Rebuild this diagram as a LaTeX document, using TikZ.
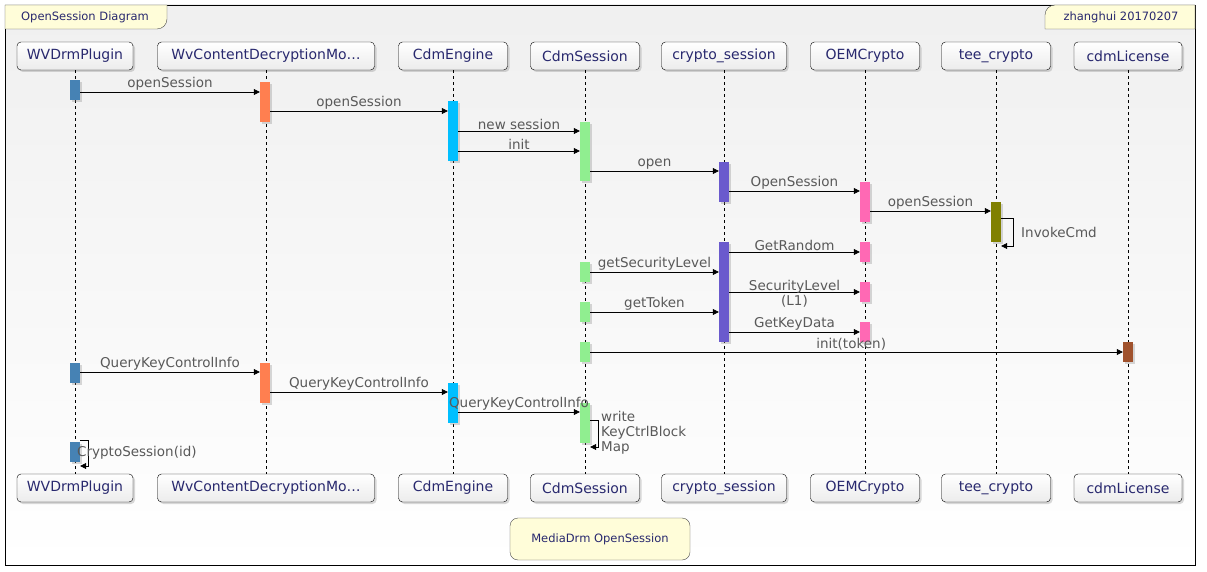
\documentclass[tikz,border=0pt]{standalone}
\usepackage{fontspec}
\setmainfont{DejaVu Sans}
\usetikzlibrary{arrows.meta,shadows}
\definecolor{steel}{RGB}{70,130,180}
\definecolor{coral}{RGB}{255,127,80}
\definecolor{dsky}{RGB}{0,191,255}
\definecolor{lgreen}{RGB}{144,238,144}
\definecolor{slate}{RGB}{106,90,205}
\definecolor{hpink}{RGB}{255,105,180}
\definecolor{oliv}{RGB}{128,128,0}
\definecolor{sienna}{RGB}{160,82,45}
\definecolor{txt}{RGB}{40,40,110}
\begin{document}
\begin{tikzpicture}[x=1pt,y=-1pt,
  part/.style={draw=black,rounded corners=4pt,top color=white,bottom color=gray!15,minimum height=28pt,inner sep=0pt,font=\fontsize{14}{16}\selectfont,text=txt,drop shadow={shadow xshift=2pt,shadow yshift=-2pt,opacity=.3}},
  act/.style={minimum width=10pt,inner sep=0pt,draw=none,drop shadow={shadow xshift=2pt,shadow yshift=-2pt,opacity=.3}},
  msg/.style={-{Triangle[length=6pt,width=6pt]},line width=0.6pt},
  lab/.style={font=\fontsize{13.5}{15}\selectfont,text=gray!70!black,inner sep=1pt,anchor=south},
  life/.style={dashed,line width=0.6pt}]
\useasboundingbox (0,0) rectangle (1207,572);
\fill[white] (0,0) rectangle (1207,572);
\draw[top color=gray!12,bottom color=white,line width=0.8pt] (5,5) rectangle (1195,565);
\draw[fill=yellow!15,draw=gray!60!black] (5,5) -- (167,5) [rounded corners=10pt]-- (167,29) [sharp corners]-- (5,29) -- cycle;
\node[font=\fontsize{11.5}{13}\selectfont,text=txt] (title) at (85,17) {OpenSession Diagram};
\draw[fill=yellow!15,draw=gray!60!black] (1195,5) -- (1195,29) -- (1045,29) [rounded corners=10pt]-- (1045,5) [sharp corners]-- cycle;
\node[font=\fontsize{11.5}{13}\selectfont,text=txt] (author) at (1121,17) {zhanghui 20170207};
\foreach \n/\x/\w/\t in {p1/75/116/WVDrmPlugin, p2/266/217/WvContentDecryptionMo\ldots, p3/453/109/CdmEngine, p4/585/109/CdmSession, p5/724/125/crypto\_session, p6/865/109/OEMCrypto, p7/996/109/tee\_crypto, p8/1128/108/cdmLicense}{
  \node[part,minimum width=\w pt] (\n t) at (\x,56) {\t};
  \node[part,minimum width=\w pt] (\n b) at (\x,488) {\t};
  \draw[life] (\n t.south) -- (\n b.north);
}
\newcommand{\actbox}[6]{\node[act,fill=#2,minimum height=#5pt] (#1) at (#3,#4+#5/2) {};}
\actbox{a1}{steel}{75}{80}{20}{}
\actbox{a1b}{steel}{75}{363}{20}{}
\actbox{a1c}{steel}{75}{442}{20}{}
\actbox{a2}{coral}{265}{82}{40}{}
\actbox{a2b}{coral}{265}{363}{40}{}
\actbox{a3}{dsky}{453}{101}{60}{}
\actbox{a3b}{dsky}{453}{383}{40}{}
\actbox{s1}{lgreen}{585}{122}{59}{}
\actbox{s2}{lgreen}{585}{262}{20}{}
\actbox{s3}{lgreen}{585}{302}{20}{}
\actbox{s4}{lgreen}{585}{342}{20}{}
\actbox{s5}{lgreen}{585}{403}{40}{}
\actbox{c1}{slate}{724}{162}{40}{}
\actbox{c2}{slate}{724}{242}{100}{}
\actbox{o1}{hpink}{865}{182}{40}{}
\actbox{o2}{hpink}{865}{242}{20}{}
\actbox{o3}{hpink}{865}{282}{20}{}
\actbox{o4}{hpink}{865}{322}{20}{}
\actbox{t1}{oliv}{996}{202}{40}{}
\actbox{l1}{sienna}{1128}{342}{20}{}
\newcommand{\mg}[4]{\draw[msg] (#1.east |- 0,#3) -- node[lab]{#4} (#2.west |- 0,#3);}
\mg{a1}{a2}{92}{openSession}
\mg{a2}{a3}{111}{openSession}
\mg{a3}{s1}{131}{new session}
\mg{a3}{s1}{151}{init}
\mg{s1}{c1}{171}{open}
\mg{c1}{o1}{191}{OpenSession}
\mg{o1}{t1}{211}{openSession}
\mg{c2}{o2}{252}{GetRandom}
\mg{s2}{c2}{272}{getSecurityLevel}
\draw[msg] (c2.east |- 0,292) -- node[lab,align=center,anchor=center,yshift=-2pt]{SecurityLevel\\(L1)} (o3.west |- 0,292);
\mg{s3}{c2}{312}{getToken}
\mg{c2}{o4}{332}{GetKeyData}
\draw[msg] (s4.east |- 0,352) -- node[lab,pos=0.49]{init(token)} (l1.west |- 0,352);
\mg{a1b}{a2b}{372}{QueryKeyControlInfo}
\mg{a2b}{a3b}{392}{QueryKeyControlInfo}
\mg{a3b}{s5}{412}{QueryKeyControlInfo}
\draw[msg] (t1.east |- 0,218) -- ++(12,0) |- (t1.east |- 0,246);
\node[lab,anchor=west] (inv) at (1020,232) {InvokeCmd};
\draw[msg] (s5.east |- 0,420) -- ++(8,0) |- (s5.east |- 0,447);
\node[lab,anchor=west,align=left] (wk) at (600,433) {write\\KeyCtrlBlock\\Map};
\draw[msg] (a1c.east |- 0,440) -- ++(8,0) |- (a1c.east |- 0,466);
\node[lab,anchor=west] (cs) at (76,453) {CryptoSession(id)};
\node[draw=gray!60!black,fill=yellow!15,rounded corners=8pt,minimum width=180pt,minimum height=42pt,font=\fontsize{11.5}{13}\selectfont,text=txt] (note) at (600,539) {MediaDrm OpenSession};
\end{tikzpicture}
\end{document}
